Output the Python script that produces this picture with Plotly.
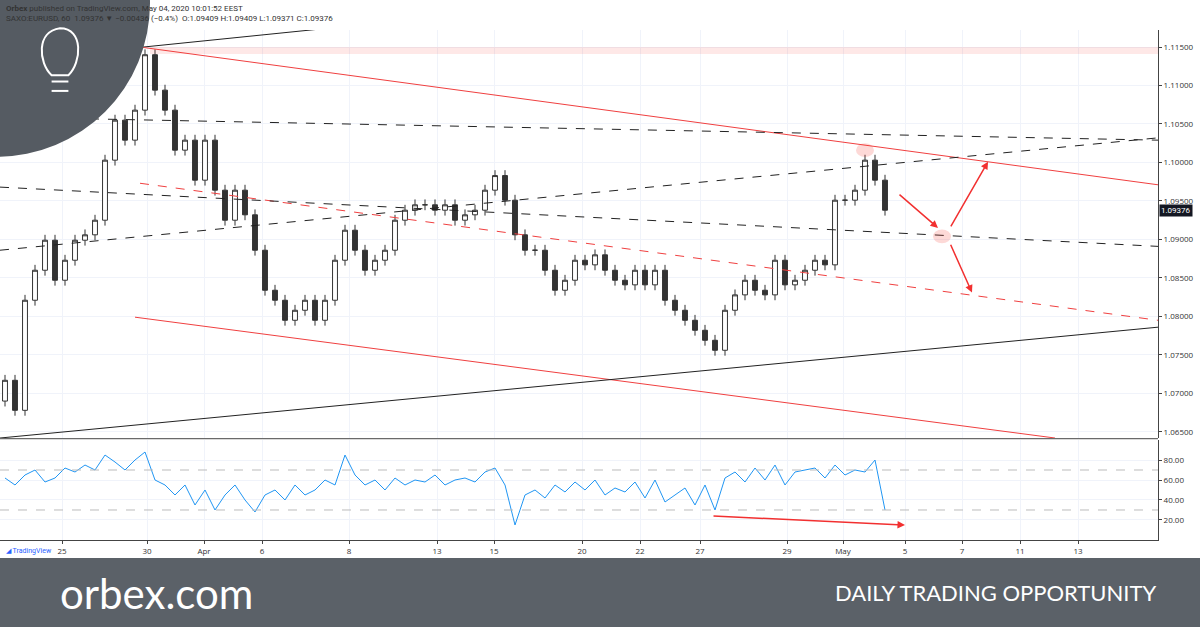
import plotly.graph_objects as go

closes = [1.0717,1.0678,1.0821,1.0860,1.0899,1.0847,1.0873,1.0899,1.0906,1.0925,
1.1003,1.1055,1.1029,1.1068,1.1140,1.1094,1.1068,1.1016,1.1029,1.0977,
1.1029,1.0964,1.0925,1.0964,1.0932,1.0886,1.0834,1.0821,1.0795,1.0808,
1.0821,1.0795,1.0821,1.0873,1.0912,1.0886,1.0860,1.0873,1.0886,1.0925,
1.0938,1.0945,1.0945,1.0938,1.0945,1.0925,1.0932,1.0938,1.0964,1.0983,
1.0951,1.0906,1.0886,1.0886,1.0860,1.0834,1.0847,1.0873,1.0867,1.0880,
1.0860,1.0847,1.0841,1.0860,1.0841,1.0860,1.0821,1.0808,1.0795,1.0782,
1.0769,1.0756,1.0808,1.0828,1.0847,1.0834,1.0828,1.0873,1.0841,1.0847,
1.0860,1.0873,1.0867,1.0951,1.0951,1.0964,1.1003,1.0977,1.0938]
opens = [1.0690] + closes[:-1]
wick = 0.0007
rsi = [62,55,65,70,58,62,72,68,75,70,85,78,70,80,88,60,55,45,55,35,50,30,45,55,40,28,45,50,40,55,
45,50,60,55,85,65,55,60,50,62,55,60,58,65,55,60,62,58,68,72,55,15,45,50,42,55,48,58,50,60,
45,52,48,58,42,60,38,45,52,35,55,30,62,68,58,72,60,75,55,68,70,72,62,75,65,70,68,80,30]
tick_pos = [5.7,14.2,19.9,25.7,34.4,43.2,48.9,57.7,63.5,69.5,78.2,83.8,90,95.7,101.5,107.3]
tick_lab = ["25","30","Apr","6","8","13","15","20","22","27","29","May","5","7","11","13"]
price_ticks = [1.065,1.070,1.075,1.080,1.085,1.090,1.095,1.100,1.105,1.110,1.115]
price_lab = ["1.06500","1.07000","1.07500","1.08000","1.08500","1.09000","1.09500","1.10000","1.10500","1.11000","1.11500"]

xs = list(range(len(closes)))
highs = [max(o, c) + wick for o, c in zip(opens, closes)]
lows = [min(o, c) - wick for o, c in zip(opens, closes)]

lines = [
    (-0.5,1.1131,33.5,1.1176,"#222","solid",1),
    (13.5,1.1150,115.3,1.0971,"#f04040","solid",1),
    (13.0,1.0799,105,1.0642,"#f04040","solid",1),
    (13.5,1.0973,115.3,1.0795,"#f04040","dash",1),
    (-0.5,1.1059,115.3,1.1029,"#222","dash",1),
    (-0.5,1.0968,115.3,1.0891,"#222","dash",1),
    (-0.5,1.0886,115.3,1.1032,"#222","dash",1),
    (-0.5,1.0642,115.3,1.0786,"#222","solid",1),
]

fig = go.Figure()
fig.add_trace(go.Candlestick(x=xs, open=opens, high=highs, low=lows, close=closes,
    increasing=dict(line=dict(color="#333", width=1), fillcolor="#ffffff"),
    decreasing=dict(line=dict(color="#333", width=1), fillcolor="#333"),
    whiskerwidth=0, xaxis="x", yaxis="y", showlegend=False))
fig.add_trace(go.Scatter(x=xs, y=rsi, mode="lines", line=dict(color="#2196f3", width=1),
    xaxis="x2", yaxis="y2", showlegend=False))

shapes = []
for x0,y0,x1,y1,c,d,w in lines:
    shapes.append(dict(type="line", xref="x", yref="y", x0=x0, y0=y0, x1=x1, y1=y1,
                       line=dict(color=c, dash=d, width=w)))
shapes.append(dict(type="rect", xref="x", yref="y", x0=14.5, x1=115.3, y0=1.1141, y1=1.1150,
                   fillcolor="rgba(244,67,54,0.12)", line=dict(width=0)))
for cx, cy in [(93.7,1.0904),(86,1.1016)]:
    shapes.append(dict(type="circle", xref="x", yref="y", x0=cx-0.9, x1=cx+0.9, y0=cy-0.0009, y1=cy+0.0009,
                       fillcolor="rgba(244,67,54,0.2)", line=dict(width=0)))
for yv in [70, 30]:
    shapes.append(dict(type="line", xref="x2", yref="y2", x0=-0.5, x1=115.3, y0=yv, y1=yv,
                       line=dict(color="#bbb", dash="dash", width=1)))
shapes.append(dict(type="rect", xref="paper", yref="paper", x0=0, x1=1, y0=0, y1=0.11,
                   fillcolor="#5b6168", line=dict(width=0), layer="above"))
shapes.append(dict(type="line", xref="paper", yref="paper", x0=0, x1=0.965, y0=0.3003, y1=0.3003,
                   line=dict(color="#444", width=1)))
shapes.append(dict(type="circle", xref="paper", yref="paper", x0=-0.13, x1=0.125, y0=0.75, y1=1.24,
                   fillcolor="#555b62", line=dict(width=0), layer="above"))
shapes.append(dict(type="path", xref="paper", yref="paper",
    path="M 0.043,0.88 C 0.032,0.90 0.030,0.95 0.050,0.955 C 0.070,0.955 0.068,0.90 0.057,0.88 Z",
    line=dict(color="white", width=2), layer="above"))
for yy in [0.87, 0.855]:
    shapes.append(dict(type="line", xref="paper", yref="paper", x0=0.043, x1=0.057, y0=yy, y1=yy,
                       line=dict(color="white", width=2), layer="above"))

annotations = []
for (x0,y0),(x1,y1) in [((89.3,1.0960),(93.3,1.0915)),((94.5,1.0915),(98.3,1.1001)),((94.5,1.0895),(96.7,1.0831))]:
    annotations.append(dict(x=x1, y=y1, ax=x0, ay=y0, xref="x", yref="y", axref="x", ayref="y",
        showarrow=True, arrowhead=2, arrowwidth=1.5, arrowcolor="#f23030", text=""))
annotations.append(dict(x=90, y=15, ax=70.7, ay=24, xref="x2", yref="y2", axref="x2", ayref="y2",
    showarrow=True, arrowhead=2, arrowwidth=1.5, arrowcolor="#f23030", text=""))
annotations.append(dict(xref="paper", yref="y", x=0.966, y=closes[-1], text="1.09376", showarrow=False,
    xanchor="left", bgcolor="#131722", font=dict(color="white", size=8, family="Roboto")))
annotations.append(dict(xref="paper", yref="paper", x=0.003, y=0.997, xanchor="left", yanchor="top",
    showarrow=False, align="left", font=dict(size=8, color="#333", family="Roboto"),
    text="<b>Orbex</b> published on TradingView.com, May 04, 2020 10:01:52 EEST<br>SAXO:EURUSD, 60  1.09376 ▼ −0.00436 (−0.4%)  O:1.09409 H:1.09409 L:1.09371 C:1.09376"))
annotations.append(dict(xref="paper", yref="paper", x=0.003, y=0.111, xanchor="left", yanchor="bottom",
    showarrow=False, text="◢ TradingView", font=dict(size=7, color="#2962ff", family="Roboto")))
annotations.append(dict(xref="paper", yref="paper", x=0.048, y=0.055, xanchor="left", yanchor="middle",
    showarrow=False, text="orbex.com", font=dict(size=42, color="white", family="Lato")))
annotations.append(dict(xref="paper", yref="paper", x=0.965, y=0.055, xanchor="right", yanchor="middle",
    showarrow=False, text="DAILY TRADING OPPORTUNITY", font=dict(size=22, color="white", family="Lato")))

fig.update_layout(
    width=1200, height=627, margin=dict(l=0, r=0, t=0, b=0),
    paper_bgcolor="white", plot_bgcolor="white", shapes=shapes, annotations=annotations,
    xaxis=dict(domain=[0, 0.965], range=[-0.5, 115.3], anchor="y", showticklabels=False,
               tickvals=tick_pos, showgrid=True, gridcolor="#f0f3fa", rangeslider=dict(visible=False),
               zeroline=False),
    yaxis=dict(domain=[0.3014, 0.952], range=[1.0642, 1.1172], side="right", tickvals=price_ticks,
               ticktext=price_lab, ticks="outside", ticklen=3, showgrid=True, gridcolor="#f0f3fa",
               tickfont=dict(size=8, color="#333"), showline=True, linecolor="#444", zeroline=False),
    xaxis2=dict(domain=[0, 0.965], range=[-0.5, 115.3], anchor="y2", tickvals=tick_pos, ticktext=tick_lab,
                showgrid=True, gridcolor="#f0f3fa", tickfont=dict(size=8, color="#333"), showline=True,
                linecolor="#444", ticks="outside", ticklen=3, zeroline=False),
    yaxis2=dict(domain=[0.1388, 0.2982], range=[0, 100], side="right", anchor="x2",
                tickvals=[20,40,60,80], ticktext=["20.00","40.00","60.00","80.00"], ticks="outside", ticklen=3,
                tickfont=dict(size=8, color="#333"), showgrid=True, gridcolor="#f0f3fa", showline=True,
                linecolor="#444", zeroline=False),
)
fig.write_html("out.html", config={"displayModeBar": False},
               post_script="document.body.style.margin='0';")
